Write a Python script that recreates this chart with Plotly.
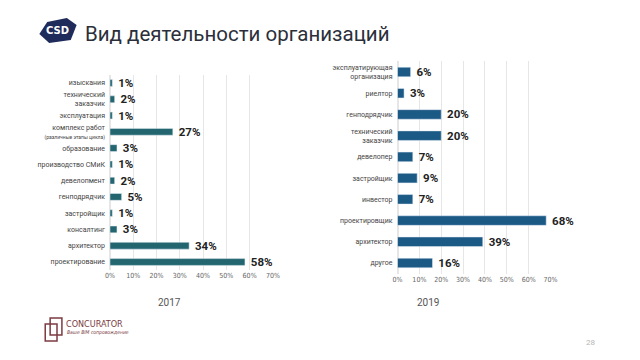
import plotly.graph_objects as go

# ---------------- data ----------------
cats_2017 = ["изыскания", "технический<br>заказчик", "эксплуатация",
             "комплекс работ<br><span style='font-size:5px'>(различные этапы цикла)</span>",
             "образование", "производство СМиК", "девелопмент", "генподрядчик",
             "застройщик", "консалтинг", "архитектор", "проектирование"]
vals_2017 = [1, 2, 1, 27, 3, 1, 2, 5, 1, 3, 34, 58]

cats_2019 = ["эксплуатирующая<br>организация", "риелтор", "генподрядчик",
             "технический<br>заказчик", "девелопер", "застройщик", "инвестор",
             "проектировщик", "архитектор", "другое"]
vals_2019 = [6, 3, 20, 20, 7, 9, 7, 68, 39, 16]

tick_vals = [0, 10, 20, 30, 40, 50, 60, 70]
tick_text = ["0%", "10%", "20%", "30%", "40%", "50%", "60%", "70%"]

W, H = 640, 360
def px(x):
    return x / W
def py(y):
    return 1 - y / H

LABEL_FONT = "Liberation Sans Narrow, DejaVu Sans Condensed, Arial Narrow, Roboto, sans-serif"
VALUE_FONT = "Roboto, sans-serif"
CAT_FONT = "Roboto, Open Sans, sans-serif"

fig = go.Figure()
fig.add_trace(go.Bar(
    y=cats_2017, x=vals_2017, orientation="h", xaxis="x", yaxis="y",
    marker=dict(color="#24666f"), width=0.42,
    text=[f"<b> {v}%</b>" for v in vals_2017], textposition="outside",
    constraintext="none",
    textfont=dict(size=11.5, color="#222222", family=VALUE_FONT),
    cliponaxis=False, hoverinfo="skip", showlegend=False,
))
fig.add_trace(go.Bar(
    y=cats_2019, x=vals_2019, orientation="h", xaxis="x2", yaxis="y2",
    marker=dict(color="#1c5a86"), width=0.45,
    text=[f"<b> {v}%</b>" for v in vals_2019], textposition="outside",
    constraintext="none",
    textfont=dict(size=11.5, color="#222222", family=VALUE_FONT),
    cliponaxis=False, hoverinfo="skip", showlegend=False,
))

n1, n2 = len(cats_2017), len(cats_2019)
s1 = (262 - 83) / (n1 - 1)
s2 = (263 - 72) / (n2 - 1)

xaxis_common = dict(range=[0, 70], tickvals=tick_vals, ticktext=tick_text,
                    showgrid=True, gridcolor="#e6e6e6", gridwidth=1,
                    zeroline=True, zerolinecolor="#e6e6e6", showline=False,
                    ticks="", tickfont=dict(size=7, color="#666666", family=LABEL_FONT),
                    fixedrange=True)
yaxis_common = dict(showgrid=False, zeroline=False, showline=False, ticks="",
                    tickfont=dict(size=7, color="#444444", family=CAT_FONT),
                    ticklabelstandoff=4, fixedrange=True)

fig.update_layout(
    width=W, height=H, margin=dict(l=0, r=0, t=0, b=0),
    paper_bgcolor="white", plot_bgcolor="white",
    xaxis=dict(domain=[px(107), px(273)], anchor="y", **xaxis_common),
    yaxis=dict(domain=[py(262 + s1 / 2), py(83 - s1 / 2)], anchor="x",
               range=[n1 - 0.5, -0.5], **yaxis_common),
    xaxis2=dict(domain=[px(400), px(556)], anchor="y2", **xaxis_common),
    yaxis2=dict(domain=[py(263 + s2 / 2), py(72 - s2 / 2)], anchor="x2",
                range=[n2 - 0.5, -0.5], **yaxis_common),
    bargap=0.5,
)

def note(text, x, y, size, color, family="Roboto, sans-serif", xanchor="center"):
    return dict(text=text, x=px(x), y=py(y), xref="paper", yref="paper",
                xanchor=xanchor, yanchor="middle", showarrow=False,
                borderpad=0, font=dict(size=size, color=color, family=family))

ann = [
    note("Вид деятельности организаций", 81, 34, 20.5, "#2b2f3a", xanchor="left"),
    note("2017", 168, 302, 10, "#555555"),
    note("2019", 431, 302, 10, "#555555"),
    note("28", 597, 342, 8, "#b5b5b5"),
    note("<b>CSD</b>", 53, 30, 10, "white", family="DejaVu Sans, sans-serif"),
    note("CONCURATOR", 61, 324, 9, "#7b3b42", family=LABEL_FONT, xanchor="left"),
    note("<i>Ваше BIM сопровождение</i>", 62, 332, 5, "#7b3b42", family=LABEL_FONT, xanchor="left"),
]
fig.update_layout(annotations=ann)

# CSD logo hexagon
pts = [(43, 22), (63, 18), (73, 25), (67, 40), (45, 43), (35, 34)]
path = "M " + " L ".join(f"{px(x)},{py(y)}" for x, y in pts) + " Z"
shapes = [dict(type="path", path=path, xref="paper", yref="paper",
               fillcolor="#1f2b5b", line=dict(width=0))]
# CONCURATOR icon
shapes.append(dict(type="rect", xref="paper", yref="paper",
                   x0=px(41), x1=px(53), y0=py(341), y1=py(324),
                   line=dict(color="#7b3b42", width=1.5)))
shapes.append(dict(type="rect", xref="paper", yref="paper",
                   x0=px(46), x1=px(58), y0=py(335), y1=py(318),
                   line=dict(color="#7b3b42", width=1.5)))
fig.update_layout(shapes=shapes)

fig.write_html("out.html", config={"displayModeBar": False},
               post_script="document.body.style.margin='0';document.body.style.overflow='hidden';")
